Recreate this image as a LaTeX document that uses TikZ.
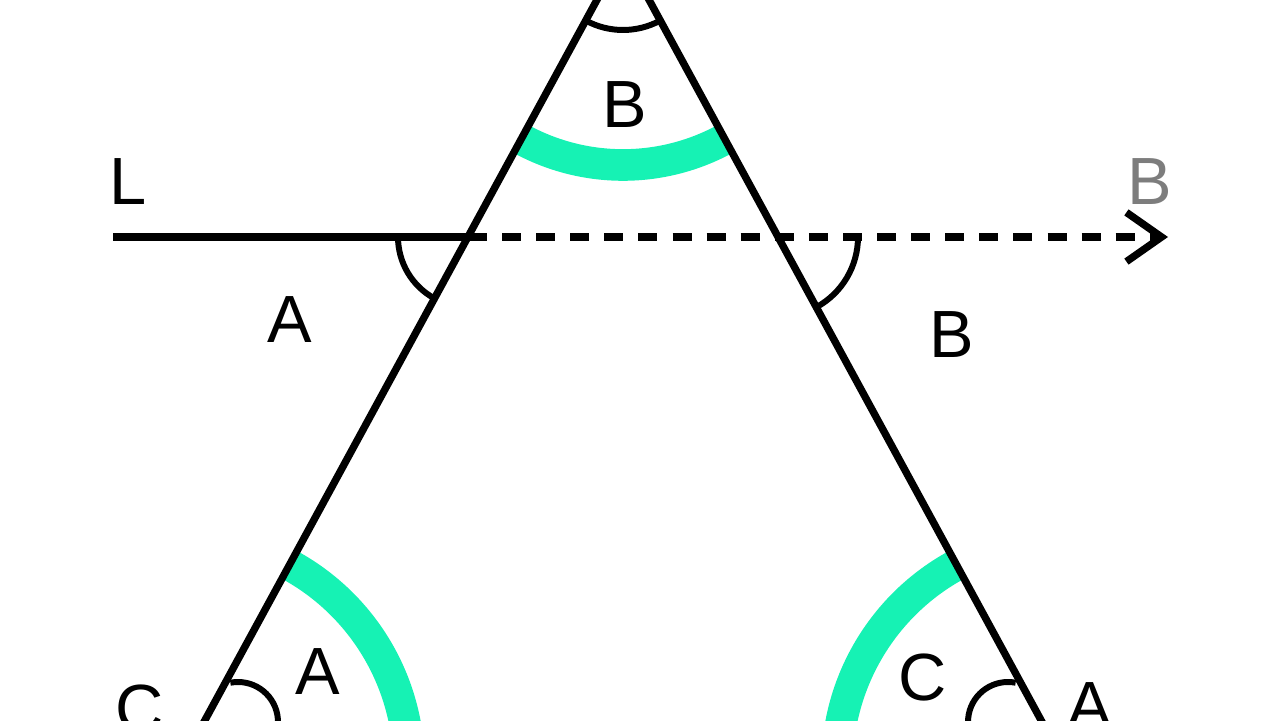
\documentclass[tikz,border=0pt]{standalone}
\usepackage{fontspec}
\setmainfont{Liberation Sans}
\usetikzlibrary{arrows.meta}
\definecolor{mint}{RGB}{22,242,180}
\definecolor{fadegray}{RGB}{125,125,125}

\begin{document}
\begin{tikzpicture}
  [x=0.1mm,y=0.1mm,
   every node/.style={font=\fontsize{19}{22}\selectfont, inner sep=0pt},
   side/.style={line width=2.1pt},
   anglearc/.style={line width=1.7pt},
   bigarc/.style={mint, line width=9pt}]
  \useasboundingbox (0,0) rectangle (1280,720);
  \clip (0,0) rectangle (1280,720);

  % vertices and crossing points
  \coordinate (top) at (623,768);
  \coordinate (bl) at (180,-46);
  \coordinate (br) at (1066,-46);
  \coordinate (pl) at (468,483);
  \coordinate (pr) at (778,483);
  \coordinate (lstart) at (113,483);
  \coordinate (lend) at (1168,483);
  \coordinate (cl) at (238,-2);
  \coordinate (cr) at (1008,-2);

  % coloured angles
  \draw[bigarc] (top) ++(241.45:21.3mm) arc[start angle=241.45, end angle=298.55, radius=21.3mm];
  \draw[bigarc] (bl) ++(0:22.9mm) arc[start angle=0, end angle=61.45, radius=22.9mm];
  \draw[bigarc] (br) ++(118.55:22.9mm) arc[start angle=118.55, end angle=180, radius=22.9mm];

  % triangle and line L
  \draw[side] (bl) -- (top) -- (br);
  \draw[side] (lstart) -- (pl);
  \draw[side, dash pattern=on 5.4pt off 4.3pt, -{Straight Barb[length=10pt,width=14pt]}] (pl) -- (lend);

  % small angles
  \draw[anglearc] (top) ++(241.45:7.8mm) arc[start angle=241.45, end angle=298.55, radius=7.8mm];
  \draw[anglearc] (pl) ++(180:7mm) arc[start angle=180, end angle=241.45, radius=7mm];
  \draw[anglearc] (pr) ++(0:8mm) arc[start angle=0, end angle=-61.45, radius=8mm];
  \draw[anglearc] (cl) ++(101:4mm) arc[start angle=101, end angle=-40, radius=4mm];
  \draw[anglearc] (cr) ++(79:4mm) arc[start angle=79, end angle=220, radius=4mm];

  % labels
  \node (lblL) at (128,538) {L};
  \node[text=fadegray] (lblBend) at (1150,538) {B};
  \node (lblBtop) at (625,615) {B};
  \node (lblAout) at (290,400) {A};
  \node (lblBout) at (952,385) {B};
  \node (lblAin) at (318,48) {A};
  \node (lblCout) at (140,11) {C};
  \node (lblCin) at (923,42) {C};
  \node (lblAend) at (1090,14) {A};
\end{tikzpicture}
\end{document}
